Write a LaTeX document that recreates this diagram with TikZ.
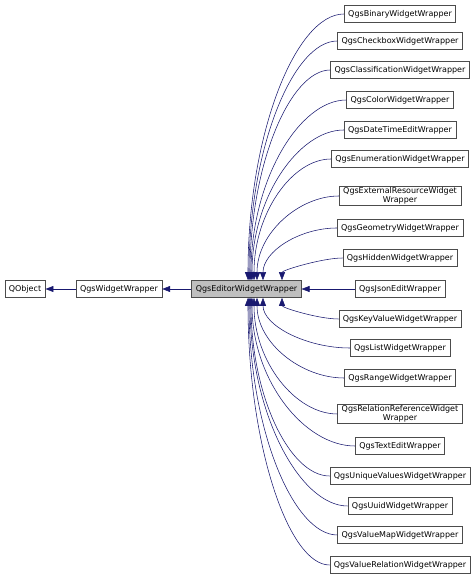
\documentclass[tikz,border=0pt]{standalone}
\usepackage{fontspec}
\setmainfont{DejaVu Sans}
\usetikzlibrary{arrows.meta}
\definecolor{edgeblue}{RGB}{25,25,112}
\tikzset{>={Triangle[length=8pt,width=6pt]}}

\begin{document}
\begin{tikzpicture}[x=1pt,y=1pt,
    every node/.style={font=\fontsize{8}{9.5}\selectfont},
    cls/.style={draw=black!70,line width=0.6pt,fill=white,minimum height=17pt,inner xsep=4pt,inner ysep=1pt,align=center},
    current/.style={cls,fill=black!25},
    edge/.style={edgeblue,line width=0.55pt,->}]
    \useasboundingbox (0,0) rectangle (474,579);
    % base classes
    \node[cls] (qobject) at (25,290) {QObject};
    \node[cls] (widgetwrapper) at (119,290) {QgsWidgetWrapper};
    \node[current] (editor) at (246.5,290) {QgsEditorWidgetWrapper};
    % derived classes
    \node[cls] (binary) at (400,565) {QgsBinaryWidgetWrapper};
    \node[cls] (checkbox) at (400,538) {QgsCheckboxWidgetWrapper};
    \node[cls] (classification) at (400,509) {QgsClassificationWidgetWrapper};
    \node[cls] (color) at (400,479) {QgsColorWidgetWrapper};
    \node[cls] (datetime) at (400,449) {QgsDateTimeEditWrapper};
    \node[cls] (enumeration) at (400,420) {QgsEnumerationWidgetWrapper};
    \node[cls] (external) at (400,383) {QgsExternalResourceWidget\\Wrapper};
    \node[cls] (geometry) at (400,351) {QgsGeometryWidgetWrapper};
    \node[cls] (hidden) at (400,321) {QgsHiddenWidgetWrapper};
    \node[cls] (json) at (400,290) {QgsJsonEditWrapper};
    \node[cls] (keyvalue) at (400,260) {QgsKeyValueWidgetWrapper};
    \node[cls] (list) at (400,231) {QgsListWidgetWrapper};
    \node[cls] (range) at (400,201) {QgsRangeWidgetWrapper};
    \node[cls] (relation) at (400,165) {QgsRelationReferenceWidget\\Wrapper};
    \node[cls] (textedit) at (400,133) {QgsTextEditWrapper};
    \node[cls] (unique) at (400,103) {QgsUniqueValuesWidgetWrapper};
    \node[cls] (uuid) at (400,73) {QgsUuidWidgetWrapper};
    \node[cls] (valuemap) at (400,44) {QgsValueMapWidgetWrapper};
    \node[cls] (valuerelation) at (400,14) {QgsValueRelationWidgetWrapper};

    \draw[edge] (widgetwrapper) -- (qobject);
    \draw[edge] (editor) -- (widgetwrapper);
    \draw[edge] (json) -- (editor);
    % curved edges into the top of the editor box
    \foreach \n/\dx/\o/\i in {binary/1.5/48/147, checkbox/2.5/44/132,
        classification/3.5/40/116, color/4.5/47/100, datetime/5.5/45/83,
        enumeration/7.5/39/67, external/10.5/40/47, geometry/16.5/37/29,
        hidden/35.5/20/10}
      \draw[edge] (\n.west) to[out=180,in=90,out distance=\o pt,in distance=\i pt] ([xshift=\dx pt]editor.north);
    % and into its bottom
    \foreach \n/\dx/\o/\i in {valuerelation/1.5/41/147, valuemap/2.5/44/131,
        uuid/3.5/48/115, unique/4.5/40/98, textedit/5.5/51/82,
        relation/7.5/42/64, range/10.5/43/45, list/16.5/43/28,
        keyvalue/35.5/20/10}
      \draw[edge] (\n.west) to[out=180,in=-90,out distance=\o pt,in distance=\i pt] ([xshift=\dx pt]editor.south);
\end{tikzpicture}
\end{document}
